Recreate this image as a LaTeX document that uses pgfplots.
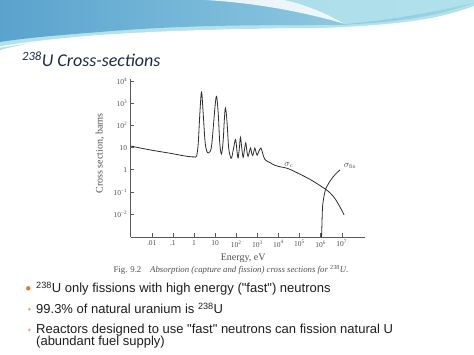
\documentclass[border=0pt]{standalone}
\usepackage{fontspec}
\setmainfont{Liberation Serif}
\newfontfamily\arial{Liberation Sans}
\newfontfamily\calibri{Carlito}
\usepackage{pgfplots}
\pgfplotsset{compat=1.18}
\definecolor{hdrA}{HTML}{5AA3CE}
\definecolor{hdrB}{HTML}{9FD6E6}
\definecolor{hdrC}{HTML}{B2E2EC}
\definecolor{axgray}{HTML}{5A5A5A}
\definecolor{labgray}{HTML}{505050}
\definecolor{curve}{HTML}{2E2E2E}
\definecolor{titlec}{HTML}{1C2B48}
\definecolor{bul1}{HTML}{E8762D}
\definecolor{bul2}{HTML}{E9A77A}
\definecolor{bodyc}{HTML}{1E1E1E}
\begin{document}
\begin{tikzpicture}[x=1pt,y=1pt]
\fill[white] (0,0) rectangle (474,355);
\clip (0,0) rectangle (474,355);
% header band
\fill[hdrC] (0,355) -- (474,355) -- (474,349) .. controls (430,333) and (380,327) .. (330,327)
   .. controls (250,327) and (180,324) .. (100,320) .. controls (60,317) and (25,312) .. (0,305) -- cycle;
\shade[left color=hdrA, right color=hdrB] (0,355) -- (474,355) -- (474,352) .. controls (430,336) and (390,333) .. (340,330)
   .. controls (260,330) and (180,330) .. (100,323) .. controls (60,320) and (25,317) .. (0,313) -- cycle;
\fill[white, opacity=0.85] (205,355) .. controls (255,352) and (300,344) .. (345,331)
   .. controls (325,343) and (300,352) .. (285,355) -- cycle;
\fill[hdrC, opacity=0.9] (285,355) .. controls (300,352) and (325,343) .. (345,331)
   .. controls (390,334) and (440,345) .. (474,352) -- (474,355) -- cycle;
\draw[white, line width=1.4pt, opacity=0.85] (0,308) .. controls (60,318) and (150,325) .. (300,326)
   .. controls (380,327) and (440,335) .. (474,346);
% title
\node[anchor=base west, inner sep=0pt, text=titlec] at (22,288)
  {\calibri\itshape\fontsize{18}{20}\selectfont \textsuperscript{238}U Cross-sections};
% plot
\begin{axis}[
  at={(130.7pt,118pt)}, anchor=south west, scale only axis,
  width=234.3pt, height=158pt,
  xmode=log, ymode=log,
  xmin=1e-3, xmax=1.26e8, ymin=9.3e-4, ymax=1.23e4,
  axis x line=bottom, axis y line=left,
  axis line style={-, draw=axgray, line width=0.6pt},
  tick style={draw=axgray, line width=0.5pt},
  minor tick style={draw=none},
  tick align=inside, major tick length=3.5pt,
  xtick={0.01,0.1,1,10,100,1000,1e4,1e5,1e6,1e7},
  xticklabels={.01,.1,1,10,10\textsuperscript{2},10\textsuperscript{3},10\textsuperscript{4},10\textsuperscript{5},10\textsuperscript{6},10\textsuperscript{7}},
  ytick={0.01,0.1,1,10,100,1000,1e4},
  yticklabels={10\textsuperscript{−2},10\textsuperscript{−1},1,10,10\textsuperscript{2},10\textsuperscript{3},10\textsuperscript{4}},
  tick label style={font=\fontsize{7.5}{8}\selectfont, text=labgray},
  xlabel={Energy, eV}, ylabel={Cross section, barns},
  label style={font=\fontsize{10}{11}\selectfont, text=labgray},
  xlabel style={at={(axis description cs:0.48,-0.133)}, anchor=center},
  ylabel style={at={(axis description cs:-0.131,0.53)}, anchor=center},
  clip=true,
]
\addplot[curve, line width=0.8pt, smooth, tension=0.55] coordinates {
(0.001,11.75) (0.00316,9.33) (0.01,7.59) (0.0316,6.31) (0.1,5.25) (0.316,4.27) (0.631,3.89) (1.0,3.80)
(1.32,4.17) (1.585,15.8) (1.905,398) (2.265,3162) (2.69,398) (3.31,20) (3.98,7.08) (5.01,5.75)
(6.61,10) (8.32,100) (10,794) (11.75,2042) (14.1,316) (16.6,15.8) (19.95,5.13)
(24.0,20) (27.5,200) (30.9,603) (36.3,158) (43.7,10) (52.5,3.98) (60.3,3.39)
(75.9,10) (93.3,22.9) (109.6,6.31) (123.0,3.39) (141.3,10) (158.5,28.8) (186.2,7.94) (213.8,3.63)
(245.5,7.94) (281.8,16.2) (323.6,6.31) (363.1,3.98) (416.9,6.31) (478.6,9.55) (537.0,5.62) (602.6,4.37)
(676.1,6.31) (758.6,9.55) (871.0,6.03) (977.2,4.57) (1202,7.08) (1479,9.55) (1778,5.62) (2291,2.88)
(3981,2.09) (6761,1.58) (10000,1.41) (28840,1.12) (100000,0.646) (177800,0.490) (501200,0.282)
(1698000,0.132) (2818000,0.0891) (4677000,0.0513) (7943000,0.0224) (12880000,0.00912)
};
\addplot[curve, line width=0.8pt, smooth, tension=0.5] coordinates {
(1.096e6,0.00093) (1.148e6,0.00316) (1.230e6,0.0219) (1.479e6,0.0741) (1.698e6,0.132)
(2.692e6,0.295) (4.677e6,0.589) (8.128e6,0.977)
};
\node[anchor=center, text=labgray, inner sep=0pt, font=\fontsize{9}{10}\selectfont] at (axis cs:3.1e4,1.7) {$\sigma_c$};
\node[anchor=center, text=labgray, inner sep=0pt, font=\fontsize{9}{10}\selectfont] at (axis cs:2.4e7,1.4) {$\sigma_{\mathrm{fis}}$};
\end{axis}
% caption
\node[anchor=base, text=labgray, inner sep=0pt, font=\fontsize{8.8}{10}\selectfont] at (231,82)
  {\textsc{Fig.} 9.2\quad \textit{Absorption (capture and fission) cross sections for} \textsuperscript{238}\textit{U.}};
% bullets
\fill[bul1] (28.3,66.7) circle (2.2);
\fill[bul2] (29.3,45.7) circle (1.5);
\fill[bul2] (29.3,25.0) circle (1.5);
\begin{scope}[every node/.style={anchor=base west, inner sep=0pt, text=bodyc, font=\arial\fontsize{13}{14}\selectfont}]
\node at (36,62) {\textsuperscript{238}U only fissions with high energy ("fast") neutrons};
\node at (36,41) {99.3\% of natural uranium is \textsuperscript{238}U};
\node at (36,21) {Reactors designed to use "fast" neutrons can fission natural U};
\node at (36,9) {(abundant fuel supply)};
\end{scope}
\end{tikzpicture}
\end{document}
